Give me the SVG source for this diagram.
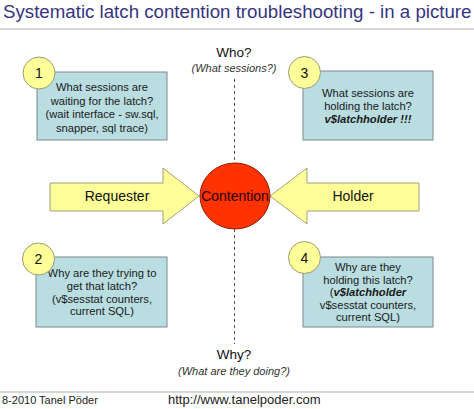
<svg xmlns="http://www.w3.org/2000/svg" width="474" height="409" viewBox="0 0 474 409">
<style>
text{font-family:"Liberation Sans",Arial,sans-serif;fill:#111}
.box{fill:#B9DDE1;stroke:#7f8a8c;stroke-width:1}
.num{fill:#FFFF99;stroke:#9a9a7a;stroke-width:1}
.numt{font-size:14px;text-anchor:middle}
.bt{font-size:11.2px;text-anchor:middle;fill:#1a1a1a}
.arrow{fill:#FFFF99;stroke:#a0a080;stroke-width:1}
.lbl{font-size:14px;text-anchor:middle}
.bi{font-weight:bold;font-style:italic}
.hdr{font-size:13.5px;text-anchor:middle}
.sub{font-size:11px;font-style:italic;text-anchor:middle;fill:#333}
.rule{stroke:#b0b0b0;stroke-width:1.2}
.foot{font-size:11px;fill:#222}
</style>
<text x="3" y="18" style="font-size:18.7px;fill:#35357F">Systematic latch contention troubleshooting - in a picture</text>
<line class="rule" x1="0" y1="29" x2="474" y2="29"/>

<g id="who">
<text class="hdr" x="234" y="57">Who?</text>
<text class="sub" x="234" y="72">(What sessions?)</text>
</g>
<g id="why">
<text class="hdr" x="234" y="359">Why?</text>
<text class="sub" x="234" y="375">(What are they doing?)</text>
</g>

<g id="connectors">
<line x1="234.5" y1="79" x2="234.5" y2="344" stroke="#555" stroke-width="1" stroke-dasharray="3,3"/>
</g>

<g id="requester">
<polygon class="arrow" points="50,183 163,183 163,168 199,196 163,224 163,211 50,211"/>
<text class="lbl" x="117" y="201">Requester</text>
</g>
<g id="holder">
<polygon class="arrow" points="419,183 307,183 307,168 270,196 307,224 307,211 419,211"/>
<text class="lbl" x="353" y="201">Holder</text>
</g>
<g id="contention">
<ellipse cx="235" cy="196" rx="35" ry="33" fill="#FF3300" stroke="#8a1a00" stroke-width="1"/>
<text class="lbl" x="235" y="201" style="fill:#2a0000">Contention</text>
</g>

<g id="box1">
<rect class="box" x="37" y="72" width="130" height="68"/>
<text class="bt" x="102" y="91">What sessions are</text>
<text class="bt" x="102" y="104.5">waiting for the latch?</text>
<text class="bt" x="102" y="118">(wait interface - sw.sql,</text>
<text class="bt" x="102" y="131.5">snapper, sql trace)</text>
<circle class="num" cx="39" cy="73" r="16"/>
<text class="numt" x="39" y="78">1</text>
</g>

<g id="box3">
<rect class="box" x="303" y="71" width="130" height="69"/>
<text class="bt" x="368" y="97">What sessions are</text>
<text class="bt" x="368" y="110">holding the latch?</text>
<text class="bt bi" x="368" y="123">v$latchholder !!!</text>
<circle class="num" cx="304.5" cy="72.5" r="16"/>
<text class="numt" x="304.5" y="77.5">3</text>
</g>

<g id="box2">
<rect class="box" x="36" y="257" width="131" height="70"/>
<text class="bt" x="102" y="277">Why are they trying to</text>
<text class="bt" x="102" y="290">get that latch?</text>
<text class="bt" x="102" y="302.5">(v$sesstat counters,</text>
<text class="bt" x="102" y="315">current SQL)</text>
<circle class="num" cx="38.5" cy="259" r="16"/>
<text class="numt" x="38.5" y="264">2</text>
</g>

<g id="box4">
<rect class="box" x="303" y="257" width="130" height="70"/>
<text class="bt" x="368" y="271">Why are they</text>
<text class="bt" x="368" y="283.5">holding this latch?</text>
<text class="bt" x="368" y="296">(<tspan class="bi">v$latchholder</tspan></text>
<text class="bt" x="368" y="308.5">v$sesstat counters,</text>
<text class="bt" x="368" y="321">current SQL)</text>
<circle class="num" cx="304.5" cy="257.5" r="16"/>
<text class="numt" x="304.5" y="262.5">4</text>
</g>

<line class="rule" x1="0" y1="392" x2="474" y2="392"/>
<text class="foot" x="2" y="404">8-2010 Tanel Pöder</text>
<text class="foot" x="168" y="404" style="font-size:13px">http://www.tanelpoder.com</text>
</svg>
